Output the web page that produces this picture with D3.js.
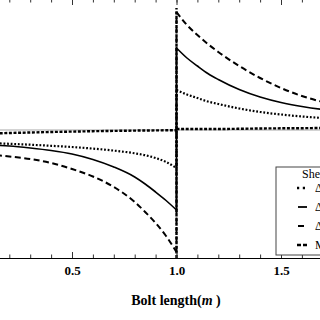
<!DOCTYPE html>
<html>
<head>
<meta charset="utf-8">
<script src="https://cdnjs.cloudflare.com/ajax/libs/d3/7.8.5/d3.min.js"></script>
<style>
  body { margin: 0; background: #fff; }
  svg { display: block; }
</style>
</head>
<body>
<div id="viz"></div>
<script>
// bolt length (m), the curves jump at x = 1
const xsLeft = [0, 0.1, 0.2, 0.3, 0.4, 0.5, 0.6, 0.7, 0.8, 0.85, 0.9, 0.95, 1.0];
const xsRight = [1.0, 1.05, 1.1, 1.15, 1.2, 1.3, 1.4, 1.5, 1.6, 1.7, 1.8];

const dottedLeft = [-12.5, -13, -13.8, -14.7, -15.8, -17, -18.6, -20.6, -23.3, -25.2, -28, -32, -38];
const dottedRight = [40, 35.5, 32, 28.5, 26, 21.5, 18, 15.5, 13.5, 12, 11];
const solidLeft = [-14, -15, -16, -18, -20.5, -24, -29.5, -37, -47, -54, -62, -70.5, -80];
const solidRight = [82, 72, 64, 56.5, 50.5, 40.5, 33, 27.5, 23.5, 20.5, 18.5];
const dashedLeft = [-23, -24.5, -26.5, -29, -33, -39, -46.5, -57, -72, -82, -93, -106, -122];
const dashedRight = [118, 105, 95, 86, 78, 64, 52, 42, 34, 28, 23];
const mLeft = [-4, -3.6, -3, -2.5, -2, -1.6, -1.2, -0.9, -0.6, -0.5, -0.4, -0.3, -0.3];
const mRight = [1, 1, 1, 1, 1, 1.2, 1.5, 1.7, 1.8, 2, 2];
const mSpike = [-128, 122];

const labelTicks = [0.5, 1.0, 1.5];
const minorTicks = d3.range(0, 2.01, 0.1);
const legendTitle = "Shear stress";
const legendLabels = ["Δ = 1 mm", "Δ = 2 mm", "Δ = 3 mm", "Mid-bolt"];

const w = 320;
const h = 320;
const topY = -1;
const bottomY = 258;

const svg = d3.select('#viz').
append('svg').
attr('width', w).
attr('height', h);

// 0.5 -> 72px, 1.5 -> 281px; extended to the full 0..2 span
const x0 = d3.scaleLinear().domain([0.5, 1.5]).range([72, 281]);
const x = d3.scaleLinear().domain([0, 2]).range([x0(0), x0(2)]);
const y = d3.scaleLinear().domain([-128, 128]).range([bottomY, 2]);

svg.append('clipPath').attr('id', 'clip').
append('rect').
attr('x', x(0)).attr('y', topY).
attr('width', x(2) - x(0)).attr('height', bottomY - topY);

// zero axis line
svg.append('line').
attr('x1', x(0)).attr('x2', x(2)).
attr('y1', y(0)).attr('y2', y(0)).
attr('stroke', '#a8a8a8').attr('stroke-width', 1.2);

const curve = d3.line().x(d => x(d[0])).y(d => y(d[1])).curve(d3.curveMonotoneX);
const straight = d3.line().x(d => x(d[0])).y(d => y(d[1]));
const plot = svg.append('g').attr('clip-path', 'url(#clip)');

const series = [
  { left: dottedLeft, right: dottedRight, dash: '1.8,1.8', width: 2.2 },
  { left: solidLeft, right: solidRight, dash: null, width: 1.6 },
  { left: dashedLeft, right: dashedRight, dash: '6,3.5', width: 2 },
  { left: mLeft, right: mRight, dash: '3,1.6', width: 2.4, spike: mSpike }
];

function drawPath(pts, gen, s) {
  plot.append('path').
  datum(pts).
  attr('d', gen).
  attr('fill', 'none').
  attr('stroke', '#000').
  attr('stroke-width', s.width).
  attr('stroke-dasharray', s.dash);
}

// vertical jumps first, so the curves sit on top
series.forEach(s => {
  const jump = s.spike ? s.spike : [s.left[s.left.length - 1], s.right[0]];
  drawPath(jump.map(v => [1.0, v]), straight, s);
});

series.forEach(s => {
  drawPath(xsLeft.map((v, i) => [v, s.left[i]]), curve, s);
  drawPath(xsRight.map((v, i) => [v, s.right[i]]), curve, s);
});

// frame axes
const fmt = d3.format('.1f');
svg.append('g').
attr('transform', 'translate(0,' + bottomY + ')').
call(d3.axisBottom(x).tickValues(labelTicks).tickSizeInner(-6).tickSizeOuter(0).tickPadding(8).tickFormat(fmt)).
call(g => g.selectAll('text').
  attr('font-family', '"Liberation Serif", serif').
  attr('font-weight', 'bold').
  attr('font-size', 13).
  attr('fill', '#000'));

svg.append('g').
attr('transform', 'translate(0,' + bottomY + ')').
call(d3.axisBottom(x).tickValues(minorTicks).tickSize(-3.5).tickFormat('')).
call(g => g.select('.domain').remove());

svg.append('g').
attr('transform', 'translate(0,' + topY + ')').
call(d3.axisTop(x).tickValues(labelTicks).tickSizeInner(-6).tickSizeOuter(0).tickFormat(''));

svg.append('g').
attr('transform', 'translate(0,' + topY + ')').
call(d3.axisTop(x).tickValues(minorTicks).tickSize(-3.5).tickFormat('')).
call(g => g.select('.domain').remove());

svg.selectAll('.tick line').attr('stroke', '#333');

// x axis title
const title = svg.append('text').
attr('x', 176).attr('y', 305).
attr('text-anchor', 'middle').
attr('font-family', '"Liberation Serif", serif').
attr('font-weight', 'bold').
attr('font-size', 14);
title.append('tspan').text('Bolt length(');
title.append('tspan').attr('font-style', 'italic').text('m');
title.append('tspan').text(' )');

// legend
const legend = svg.append('g').attr('transform', 'translate(276,167)');
legend.append('rect').
attr('width', 70).attr('height', 88).
attr('fill', '#fff').attr('stroke', '#444').attr('stroke-width', 1);
legend.append('text').
attr('x', 26).attr('y', 11).
attr('font-family', '"Liberation Serif", serif').
attr('font-size', 12).
text(legendTitle);

const rows = [
  { dash: '2.2,3.6', width: 2.4, x1: 21, x2: 30 },
  { dash: null, width: 1.8, x1: 22, x2: 31 },
  { dash: null, width: 2, x1: 22, x2: 28 },
  { dash: '4,2', width: 2.4, x1: 21, x2: 32 }
];
rows.forEach((r, i) => {
  const ry = 21 + i * 19;
  legend.append('line').
  attr('x1', r.x1).attr('x2', r.x2).
  attr('y1', ry).attr('y2', ry).
  attr('stroke', '#000').
  attr('stroke-width', r.width).
  attr('stroke-dasharray', r.dash);
  legend.append('text').
  attr('x', 39).attr('y', ry + 4).
  attr('font-family', '"Liberation Serif", serif').
  attr('font-size', 12).
  text(legendLabels[i]);
});
</script>
</body>
</html>
